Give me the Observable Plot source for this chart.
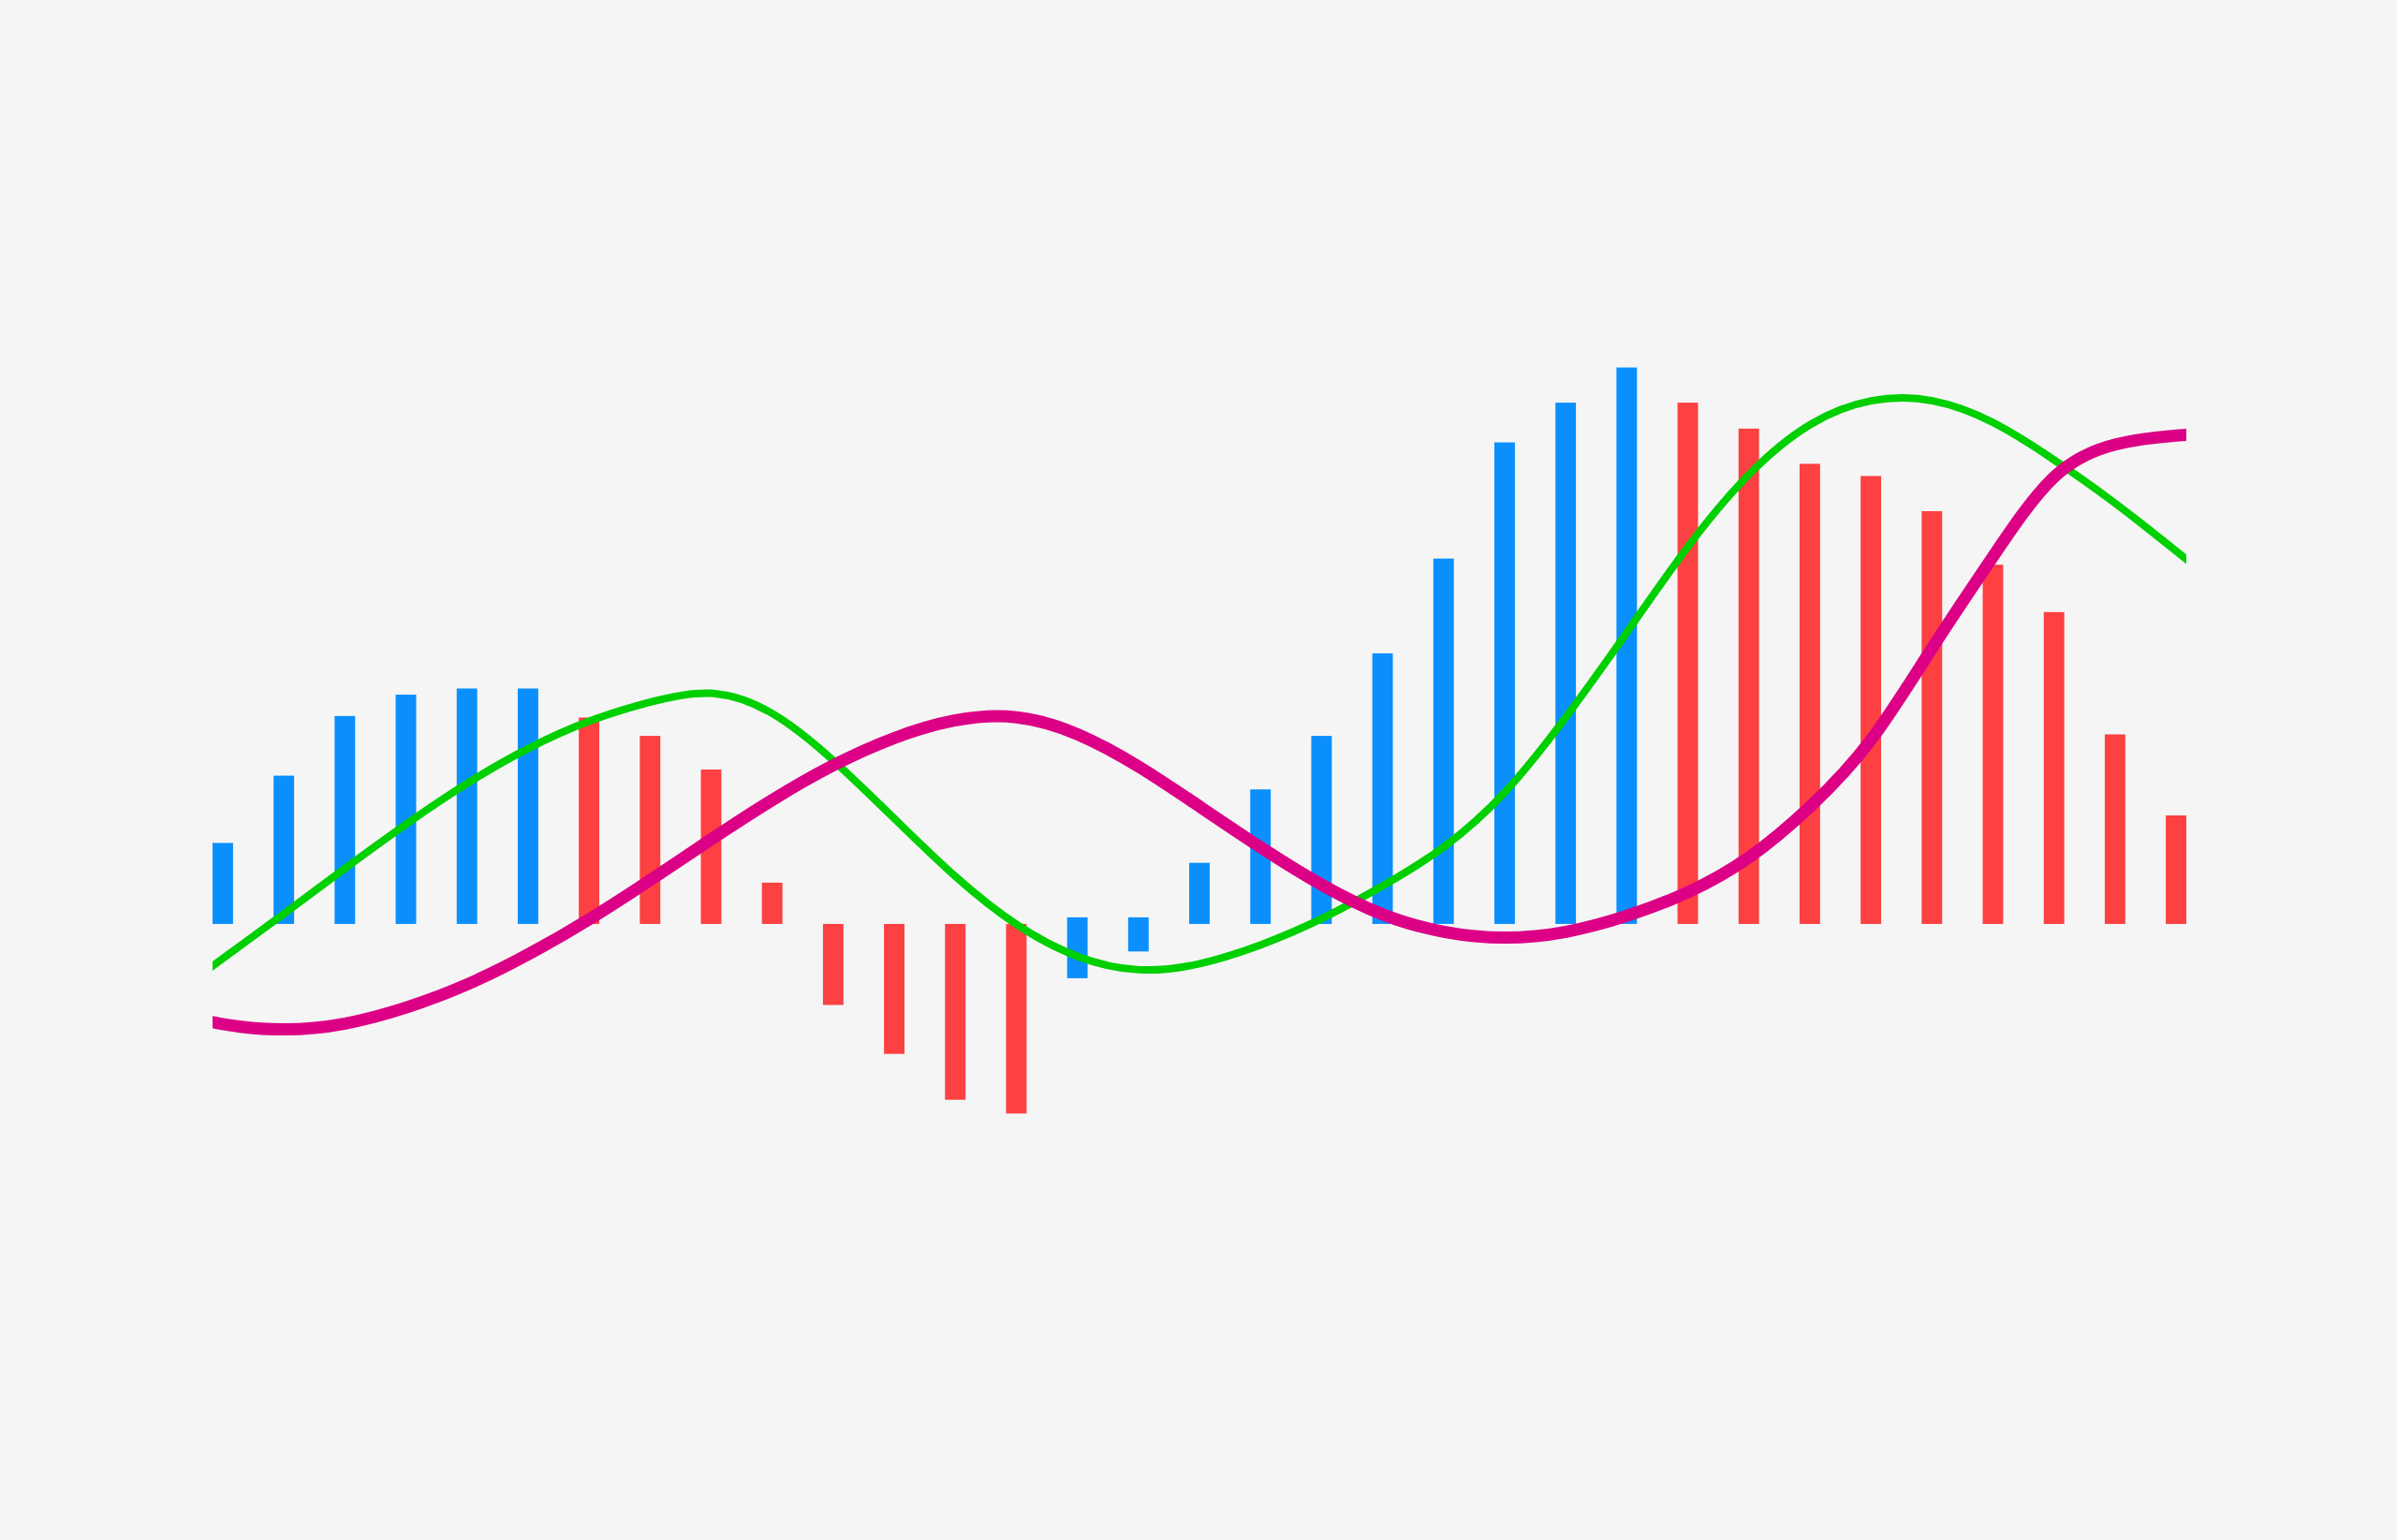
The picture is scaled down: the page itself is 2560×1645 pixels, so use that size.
<!DOCTYPE html>
<html>
<head>
<meta charset="utf-8">
<script src="https://cdn.jsdelivr.net/npm/d3@7"></script>
<script src="https://cdn.jsdelivr.net/npm/@observablehq/plot@0.6"></script>
<style>
  html, body { margin: 0; padding: 0; background: #f5f5f5; }
  #chart svg { display: block; }
</style>
</head>
<body>
<div id="chart"></div>
<script>
// Histogram bars (period index 1..33)
const barIndex = d3.range(1, 34);
const histValue = [0.53, 0.97, 1.36, 1.50, 1.54, 1.54, 1.35, 1.23, 1.01, 0.27,
  -0.53, -0.85, -1.15, -1.24, -0.355, -0.18, 0.40, 0.88, 1.23, 1.77,
  2.39, 3.15, 3.41, 3.64, 3.41, 3.24, 3.01, 2.93, 2.70, 2.35,
  2.04, 1.24, 0.71];
const histBase = [0, 0, 0, 0, 0, 0, 0, 0, 0, 0,
  0, 0, 0, 0, 0.043, 0.043, 0, 0, 0, 0,
  0, 0, 0, 0, 0, 0, 0, 0, 0, 0,
  0, 0, 0];
const histDir = ["up","up","up","up","up","up",
  "down","down","down","down","down","down","down","down",
  "up","up","up","up","up","up","up","up","up","up",
  "down","down","down","down","down","down","down","down","down"];

// Line samples
const lineIndex = [0.5, 1, 2, 3, 4, 5, 6, 7, 8, 9, 10, 11, 12, 13, 14, 15, 16, 17,
  18, 19, 20, 21, 22, 23, 24, 25, 26, 27, 28, 29, 30, 31, 32, 33, 33.5];
const greenLine = [-0.37, -0.22, 0.07, 0.37, 0.66, 0.93, 1.16, 1.34, 1.46, 1.55, 1.41,
  1.08, 0.69, 0.30, -0.02, -0.23, -0.32, -0.27, -0.14, 0.03, 0.25,
  0.49, 0.84, 1.35, 1.91, 2.49, 2.97, 3.30, 3.45, 3.45, 3.30,
  3.04, 2.76, 2.44, 2.28];
const magentaLine = [-0.61, -0.66, -0.70, -0.66, -0.55, -0.40, -0.20, 0.03, 0.29, 0.56, 0.82,
  1.05, 1.23, 1.35, 1.38, 1.26, 1.04, 0.77, 0.50, 0.25, 0.05,
  -0.06, -0.10, -0.06, 0.05, 0.20, 0.42, 0.76, 1.17, 1.82, 2.41,
  3.00, 3.16, 3.20, 3.21];

const bars = barIndex.map((i, k) => ({i, lo: histBase[k], hi: histValue[k], dir: histDir[k]}));
const green = lineIndex.map((i, k) => ({i, v: greenLine[k]}));
const magenta = lineIndex.map((i, k) => ({i, v: magentaLine[k]}));
const halfBar = 0.168;

const chart = Plot.plot({
  width: 2560,
  height: 1645,
  marginTop: 0,
  marginBottom: 0,
  marginLeft: 227,
  marginRight: 225,
  style: {background: "#f5f5f5"},
  x: {type: "linear", domain: [1 - halfBar, 33 + halfBar], axis: null},
  y: {domain: [-4.03, 6.044], axis: null},
  color: {domain: ["up", "down"], range: ["#0b8ffd", "#fd4042"]},
  marks: [
    Plot.rectY(bars, {x1: d => d.i - halfBar, x2: d => d.i + halfBar, y1: "lo", y2: "hi", fill: "dir"}),
    Plot.line(green, {x: "i", y: "v", curve: "basis", stroke: "#00cf00", strokeWidth: 8, clip: "frame"}),
    Plot.line(magenta, {x: "i", y: "v", curve: "basis", stroke: "#dc0086", strokeWidth: 13, clip: "frame"})
  ]
});
document.getElementById("chart").appendChild(chart);
</script>
</body>
</html>
